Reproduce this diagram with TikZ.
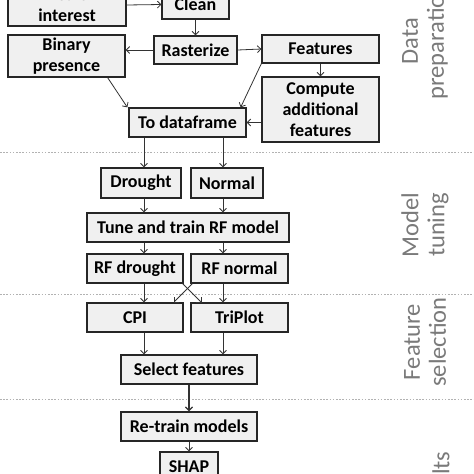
\documentclass[tikz,border=0pt]{standalone}
\usepackage{fontspec}
\setmainfont{Carlito}
\usetikzlibrary{arrows.meta,calc}
\begin{document}
\begin{tikzpicture}[x=1pt,y=-1pt,
  box/.style={draw=black!85, line width=1.3pt, fill=black!6, inner sep=0pt,
    align=center, font=\bfseries\fontsize{18}{21}\selectfont},
  arr/.style={draw=black!80, line width=0.8pt, -{Straight Barb[length=3.5pt,width=7pt]}},
  sep/.style={draw=black!30, line width=0.9pt, dash pattern=on 1.6pt off 1.6pt},
  side/.style={rotate=90, align=center, text=black!52, inner sep=0pt,
    font=\fontsize{24.5}{26}\selectfont}]
\useasboundingbox (0,0) rectangle (474,474);
\clip (0,0) rectangle (474,474);

% separators
\draw[sep] (0,152) -- (474,152);
\draw[sep] (0,294) -- (474,294);
\draw[sep] (0,399) -- (474,399);

% columns for the vertical arrows
\coordinate (ca) at (144,0);
\coordinate (cb) at (223,0);

% boxes
\node[box, minimum width=118pt, minimum height=42pt] (aoi) at (67,5) {Area of\\interest};
\node[box, minimum width=67pt, minimum height=29pt] (clean) at (195.5,4.5) {Clean};
\node[box, minimum width=83pt, minimum height=28pt] (rast) at (195.5,50) {Rasterize};
\node[box, minimum width=117pt, minimum height=42pt] (bin) at (66.5,56) {Binary\\presence};
\node[box, minimum width=117pt, minimum height=28pt] (feat) at (320.5,49) {Features};
\node[box, minimum width=117pt, minimum height=65pt] (comp) at (320.5,109.5) {Compute\\additional\\features};
\node[box, minimum width=117pt, minimum height=29pt] (todf) at (187.5,122.5) {To dataframe};
\node[box, minimum width=80pt, minimum height=30pt] (drought) at (141,183) {Drought};
\node[box, minimum width=72pt, minimum height=30pt] (normal) at (227,183) {Normal};
\node[box, minimum width=202pt, minimum height=29pt] (tune) at (188,227.5) {Tune and train RF model};
\node[box, minimum width=96pt, minimum height=29pt] (rfd) at (135,268.5) {RF drought};
\node[box, minimum width=97pt, minimum height=29pt] (rfn) at (239.5,268.5) {RF normal};
\node[box, minimum width=96pt, minimum height=29pt] (cpi) at (135,317.5) {CPI};
\node[box, minimum width=97pt, minimum height=29pt] (tri) at (239.5,317.5) {TriPlot};
\node[box, minimum width=136pt, minimum height=29pt] (sel) at (189,369.5) {Select features};
\node[box, minimum width=136pt, minimum height=29pt] (retrain) at (189,426.5) {Re-train models};
\node[box, minimum width=58pt, minimum height=29pt] (shap) at (189,466.5) {SHAP};

% side labels
\node[side] (lab1) at (425,41) {Data\\preparation};
\node[side] (lab2) at (425,225) {Model\\tuning};
\node[side] (lab3) at (425,342) {Feature\\selection};
\node[side] (lab4) at (441,487) {Results};

% connectors
\draw[arr] (aoi.east) -- (clean.west);
\draw[arr] (clean.south) -- (rast.north);
\draw[arr] (rast.west) -- (rast.west -| bin.east);
\draw[arr] (rast.east) -- (feat.west);
\draw[arr] (feat.south) -- (comp.north);
\draw[arr] ($(bin.south east)+(-18,0)$) -- ($(todf.north west)+(-1,0)$);
\draw[arr] (feat.south west) -- ($(todf.north east)+(-6,0)$);
\draw[arr] (comp.west |- todf.east) -- (todf.east);
\draw[arr] (todf.south -| ca) -- (drought.north -| ca);
\draw[arr] (todf.south -| cb) -- (normal.north -| cb);
\draw[arr] (drought.south -| ca) -- (tune.north -| ca);
\draw[arr] (normal.south -| cb) -- (tune.north -| cb);
\draw[arr] (tune.south -| ca) -- (rfd.north -| ca);
\draw[arr] (tune.south -| cb) -- (rfn.north -| cb);
\draw[arr] (rfd.south -| ca) -- (cpi.north -| ca);
\draw[arr] (rfn.south -| cb) -- (tri.north -| cb);
\draw[arr] ($(rfd.south east)+(-1,0)$) -- ($(tri.north west)+(11,0)$);
\draw[arr] ($(rfn.south west)+(2,0)$) -- ($(cpi.north east)+(-10,0)$);
\draw[arr] (cpi.south -| ca) -- (sel.north -| ca);
\draw[arr] (tri.south -| cb) -- (sel.north -| cb);
\draw[arr, line width=1.3pt] (sel.south) -- (retrain.north);
\draw[arr] (retrain.south) -- (shap.north);
\end{tikzpicture}
\end{document}
